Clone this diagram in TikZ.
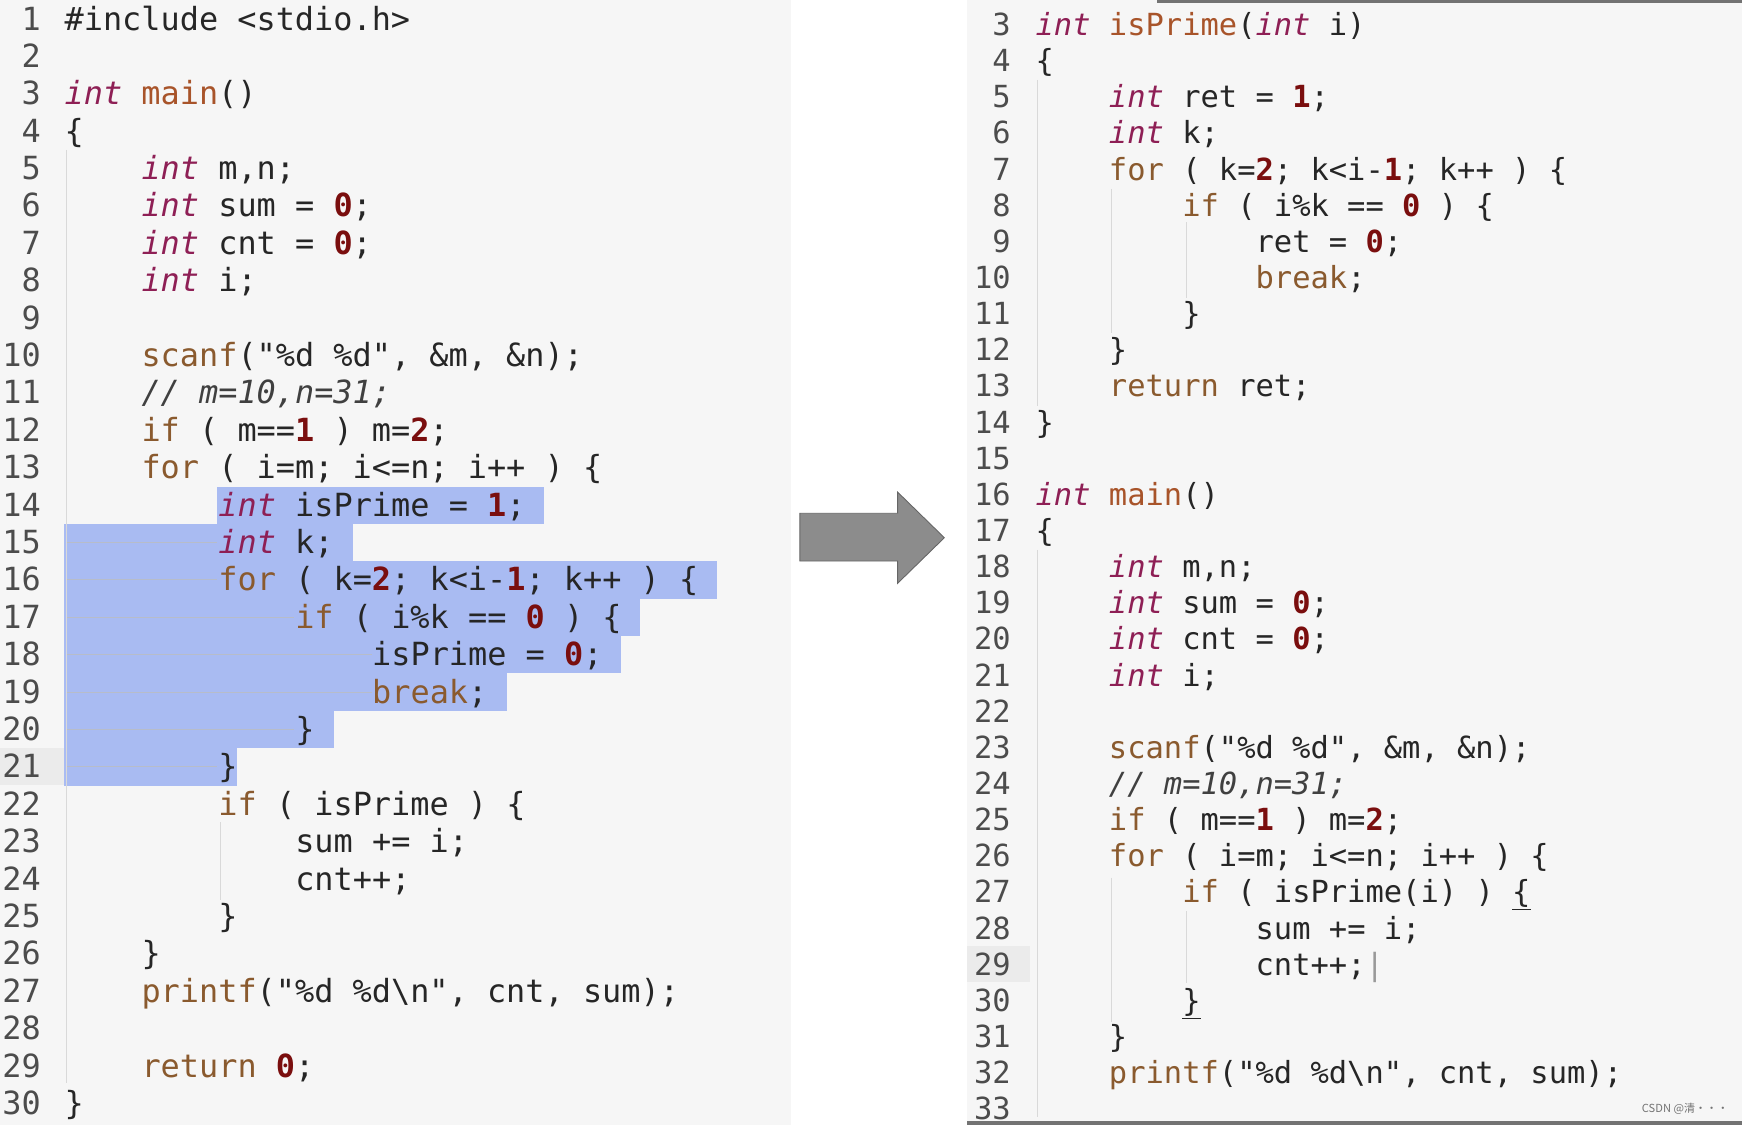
\documentclass[tikz,border=0pt]{standalone}
\usepackage{fontspec}
\setmonofont{DejaVu Sans Mono}
\newfontfamily\cjk{Noto Sans CJK SC}
\definecolor{kwc}{HTML}{8E1F55}
\definecolor{ctl}{HTML}{8A5A2E}
\definecolor{fnc}{HTML}{A8542A}
\definecolor{numc}{HTML}{7A0E0E}
\definecolor{hl}{HTML}{A9BBF2}
\definecolor{panel}{HTML}{F6F6F6}
\newcommand{\KW}[1]{{\color{kwc}\itshape #1}}
\newcommand{\CT}[1]{{\color{ctl}#1}}
\newcommand{\FN}[1]{{\color{fnc}#1}}
\newcommand{\NM}[1]{{\color{numc}\bfseries #1}}
\newcommand{\CM}[1]{{\color{black!75}\itshape #1}}
\tikzset{
 codeL/.style={anchor=base west,inner sep=0pt,font=\fontsize{28.7}{30}\ttfamily,text=black!85},
 codeR/.style={anchor=base west,inner sep=0pt,font=\fontsize{27.4}{29}\ttfamily,text=black!85},
 numL/.style={anchor=base east,inner sep=0pt,font=\fontsize{28.7}{30}\ttfamily,text=black!70},
 numR/.style={anchor=base east,inner sep=0pt,font=\fontsize{27.4}{29}\ttfamily,text=black!70},
 guide/.style={draw=black!15,line width=0.8pt}
}
% left: line n at y = 17+(n-1)*33.66, baseline +10
\newcommand{\LL}[3]{\node[codeL] (L#1) at ({58+#2*17.3},{-(27+(#1-1)*33.66)}) {#3};}
\newcommand{\RL}[3]{\node[codeR] (R#1) at ({932+#2*16.5},{-(32+(#1-3)*32.53)}) {#3};}
\begin{document}
\begin{tikzpicture}[x=1pt,y=1pt]
\useasboundingbox (0,0) rectangle (1568,-1013);
\fill[white] (0,0) rectangle (1568,-1013);
\fill[panel] (0,0) rectangle (712,-1013);
\fill[panel] (870,0) rectangle (1568,-1010);
\fill[black!55] (1041,0) rectangle (1568,-3);
\fill[black!55] (870,-1009) rectangle (1568,-1013);
% left current line
\fill[black!8] (0,{-(690-16.8)}) rectangle (58,{-(690+16.8)});
% highlight
\fill[hl] (195,-438) rectangle (490,-472);
\foreach \n/\r in {15/318,16/645,17/576,18/559,19/456,20/301,21/213}{
  \fill[hl] (58,{-(17+(\n-1)*33.66-16.8)}) rectangle (\r,{-(17+(\n-1)*33.66+16.9)});
}
\foreach \n/\a/\b in {15/60/195,16/60/195,17/60/265,18/60/335,19/60/335,20/60/265,21/60/195}{
  \draw[white!70!hl!80!black,line width=0.6pt] (\a,{-(17+(\n-1)*33.66)}) -- (\b,{-(17+(\n-1)*33.66)});
}
% left guides
\draw[guide] (60,-135) -- (60,-975);
\draw[guide] (198,-740) -- (198,-810);
% right guides
\draw[guide] (934,-72) -- (934,-365);
\draw[guide] (934,-495) -- (934,-1005);
\draw[guide] (1000,-170) -- (1000,-300);
\draw[guide] (1068,-200) -- (1068,-268);
\draw[guide] (1000,-790) -- (1000,-920);
\draw[guide] (1068,-820) -- (1068,-885);
% right current line
\fill[black!8] (870,{-(22+26*32.53-16)}) rectangle (927,{-(22+26*32.53+16)});
% numbers
\foreach \n in {1,...,30}{\node[numL] (NL\n) at (37,{-(27+(\n-1)*33.66)}) {\n};}
\foreach \n in {3,...,33}{\node[numR] (NR\n) at (910,{-(32+(\n-3)*32.53)}) {\n};}
% left code
\LL{1}{0}{\#include <stdio.h>}
\LL{3}{0}{\KW{int} \FN{main}()}
\LL{4}{0}{\{}
\LL{5}{4}{\KW{int} m,n;}
\LL{6}{4}{\KW{int} sum = \NM{0};}
\LL{7}{4}{\KW{int} cnt = \NM{0};}
\LL{8}{4}{\KW{int} i;}
\LL{10}{4}{\CT{scanf}("\%d \%d", \&m, \&n);}
\LL{11}{4}{\CM{// m=10,n=31;}}
\LL{12}{4}{\CT{if} ( m==\NM{1} ) m=\NM{2};}
\LL{13}{4}{\CT{for} ( i=m; i<=n; i++ ) \{}
\LL{14}{8}{\KW{int} isPrime = \NM{1};}
\LL{15}{8}{\KW{int} k;}
\LL{16}{8}{\CT{for} ( k=\NM{2}; k<i-\NM{1}; k++ ) \{}
\LL{17}{12}{\CT{if} ( i\%k == \NM{0} ) \{}
\LL{18}{16}{isPrime = \NM{0};}
\LL{19}{16}{\CT{break};}
\LL{20}{12}{\}}
\LL{21}{8}{\}}
\LL{22}{8}{\CT{if} ( isPrime ) \{}
\LL{23}{12}{sum += i;}
\LL{24}{12}{cnt++;}
\LL{25}{8}{\}}
\LL{26}{4}{\}}
\LL{27}{4}{\CT{printf}("\%d \%d\textbackslash n", cnt, sum);}
\LL{29}{4}{\CT{return} \NM{0};}
\LL{30}{0}{\}}
% right code
\RL{3}{0}{\KW{int} \FN{isPrime}(\KW{int} i)}
\RL{4}{0}{\{}
\RL{5}{4}{\KW{int} ret = \NM{1};}
\RL{6}{4}{\KW{int} k;}
\RL{7}{4}{\CT{for} ( k=\NM{2}; k<i-\NM{1}; k++ ) \{}
\RL{8}{8}{\CT{if} ( i\%k == \NM{0} ) \{}
\RL{9}{12}{ret = \NM{0};}
\RL{10}{12}{\CT{break};}
\RL{11}{8}{\}}
\RL{12}{4}{\}}
\RL{13}{4}{\CT{return} ret;}
\RL{14}{0}{\}}
\RL{16}{0}{\KW{int} \FN{main}()}
\RL{17}{0}{\{}
\RL{18}{4}{\KW{int} m,n;}
\RL{19}{4}{\KW{int} sum = \NM{0};}
\RL{20}{4}{\KW{int} cnt = \NM{0};}
\RL{21}{4}{\KW{int} i;}
\RL{23}{4}{\CT{scanf}("\%d \%d", \&m, \&n);}
\RL{24}{4}{\CM{// m=10,n=31;}}
\RL{25}{4}{\CT{if} ( m==\NM{1} ) m=\NM{2};}
\RL{26}{4}{\CT{for} ( i=m; i<=n; i++ ) \{}
\RL{27}{8}{\CT{if} ( isPrime(i) ) \underline{\{}}
\RL{28}{12}{sum += i;}
\RL{29}{12}{cnt++;\textcolor{black!40}{|}}
\RL{30}{8}{\underline{\}}}
\RL{31}{4}{\}}
\RL{32}{4}{\CT{printf}("\%d \%d\textbackslash n", cnt, sum);}
% arrow
\coordinate (ta) at (720,-484);
\coordinate (tb) at (850,-484);
\draw[draw=black!60,fill=black!45,line width=0.8pt]
 (720,-462) -- (808,-462) -- (808,-443) -- (tb) -- (808,-525) -- (808,-505) -- (720,-505) -- cycle;
\node[anchor=east,inner sep=0pt,font=\cjk\fontsize{10}{12}\selectfont,text=black!55] (wm) at (1556,-998) {CSDN @清···};
\end{tikzpicture}
\end{document}
